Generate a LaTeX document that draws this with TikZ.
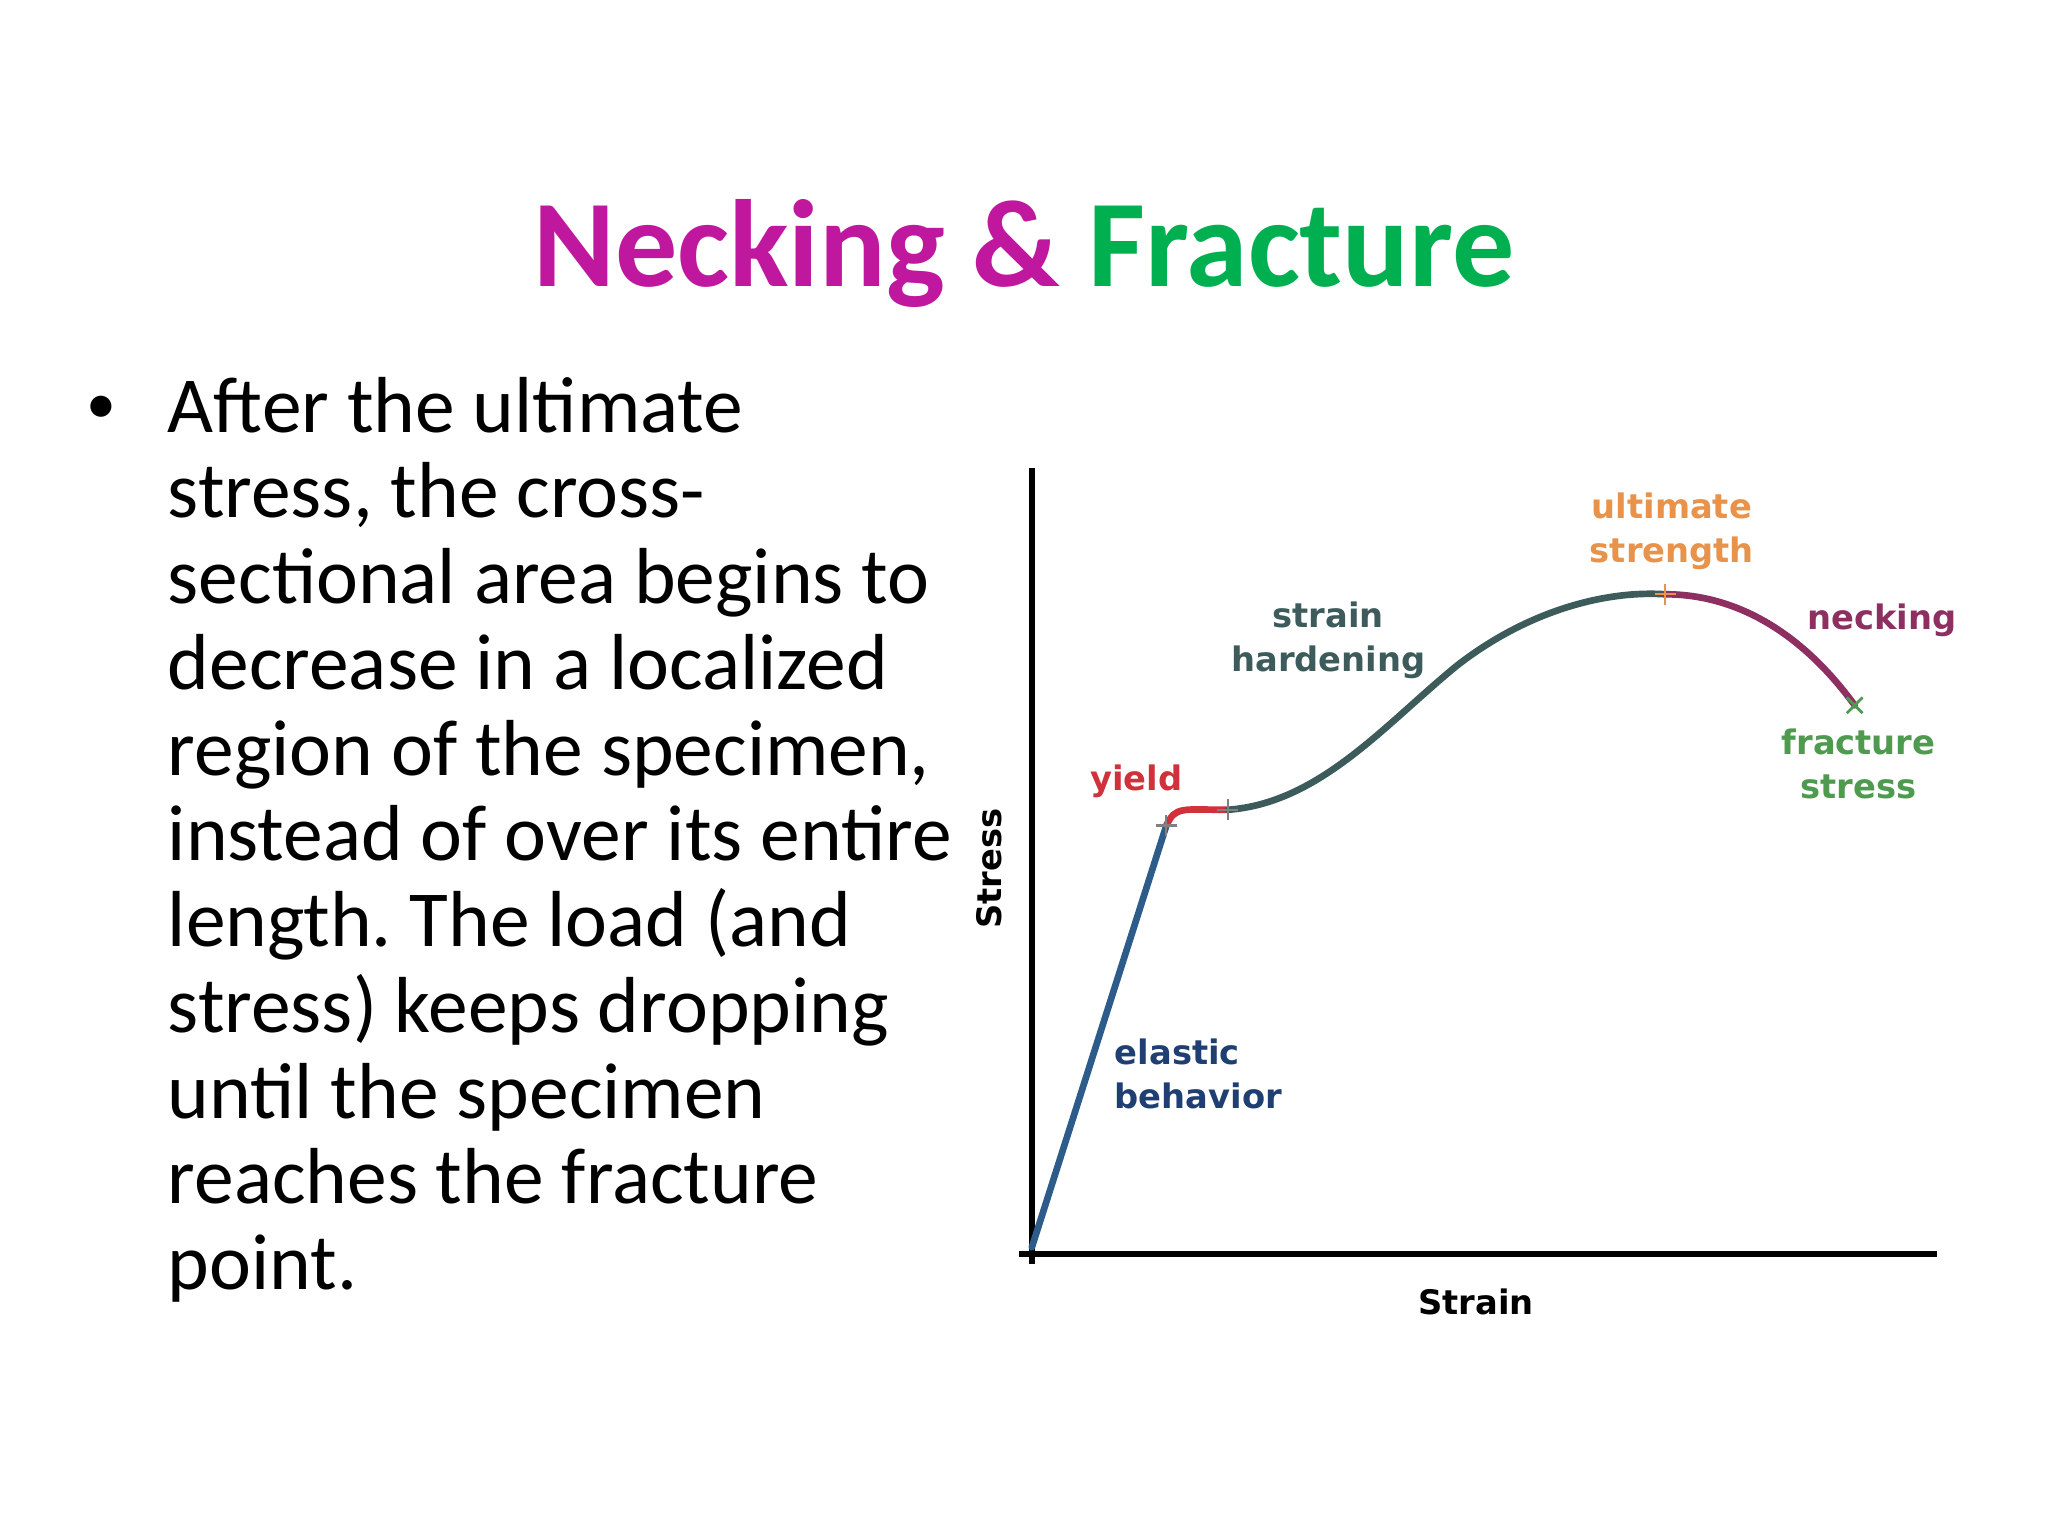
\documentclass[tikz,border=0pt]{standalone}
\usepackage{fontspec}
\setmainfont{Carlito}
\newfontfamily\lab{DejaVu Sans}
\frenchspacing
\definecolor{mag}{HTML}{C0179F}
\definecolor{grn}{HTML}{00B050}
\definecolor{elc}{HTML}{2E5C8A}
\definecolor{yc}{HTML}{D0313A}
\definecolor{hc}{HTML}{3D5B5B}
\definecolor{nc}{HTML}{8E2F62}
\definecolor{uc}{HTML}{E8924A}
\definecolor{fc}{HTML}{4E9A4E}
\definecolor{ebc}{HTML}{1F3F73}
\begin{document}
\begin{tikzpicture}[x=0.013061cm,y=-0.013061cm,
  chl/.style={font=\lab\bfseries\fontsize{9.6}{12.5}\selectfont,align=center,inner sep=0},
  curve/.style={line width=1.9pt,line cap=round}]
\useasboundingbox (0,0) rectangle (1568,1176);
\fill[white] (0,0) rectangle (1568,1176);
\node[font=\bfseries\fontsize{35.3}{42}\selectfont,inner sep=0] (title) at (784,194)
  {\textcolor{mag}{Necking \&} \textcolor{grn}{Fracture}};
\node[anchor=north west,align=left,inner sep=0,font=\fontsize{22.6}{24.4}\selectfont] (body) at (128,288)
  {After the ultimate\\stress, the cross-\\sectional area begins to\\decrease in a localized\\region of the specimen,\\instead of over its entire\\length. The load (and\\stress) keeps dropping\\until the specimen\\reaches the fracture\\point.};
\node[font=\fontsize{17}{20}\selectfont,inner sep=0] (bul) at (78,314) {•};
% axes
\coordinate (o) at (790,960);
\coordinate (yt) at (790,358);
\coordinate (xr) at (1483,960);
\draw[line width=1.6pt] (790,968) -- (yt);
\draw[line width=1.6pt] (780,960) -- (xr);
% curve
\coordinate (p0) at (790,955);
\coordinate (p1) at (893,632);
\coordinate (p2) at (940,620);
\coordinate (p3) at (1275,455);
\coordinate (p4) at (1420,540);
\draw[curve,elc] (p0) -- (p1);
\draw[curve,yc] (p1) .. controls (900,617) and (905,620) .. (p2);
\draw[curve,hc] (p2) .. controls (1010,615) and (1060,555) .. (1115,510) .. controls (1170,467) and (1230,452) .. (p3);
\draw[curve,nc] (p3) .. controls (1330,455) and (1380,485) .. (p4);
\draw[gray,line width=0.6pt] (p1) ++(-8,0) -- ++(16,0) (p1) ++(0,-8) -- ++(0,16);
\draw[gray,line width=0.6pt] (p2) ++(-8,0) -- ++(16,0) (p2) ++(0,-8) -- ++(0,16);
\draw[uc,line width=0.6pt] (p3) ++(-8,0) -- ++(16,0) (p3) ++(0,-8) -- ++(0,16);
\draw[fc,line width=0.8pt] (p4) ++(-6,-6) -- ++(12,12) (p4) ++(-6,6) -- ++(12,-12);
% labels
\node[chl,yc] (yl) at (870,598) {yield};
\node[chl,hc] (hl) at (1017,490) {strain\\hardening};
\node[chl,uc] (ul) at (1280,407) {ultimate\\strength};
\node[chl,nc] (nl) at (1441,475) {necking};
\node[chl,fc] (fl) at (1423,585) {fracture\\stress};
\node[chl,ebc,align=left,anchor=west] (el) at (853,822) {elastic\\behavior};
\node[chl,black,rotate=90] (sl) at (757,665) {Stress};
\node[chl,black] (xl) at (1130,997) {Strain};
\end{tikzpicture}
\end{document}
